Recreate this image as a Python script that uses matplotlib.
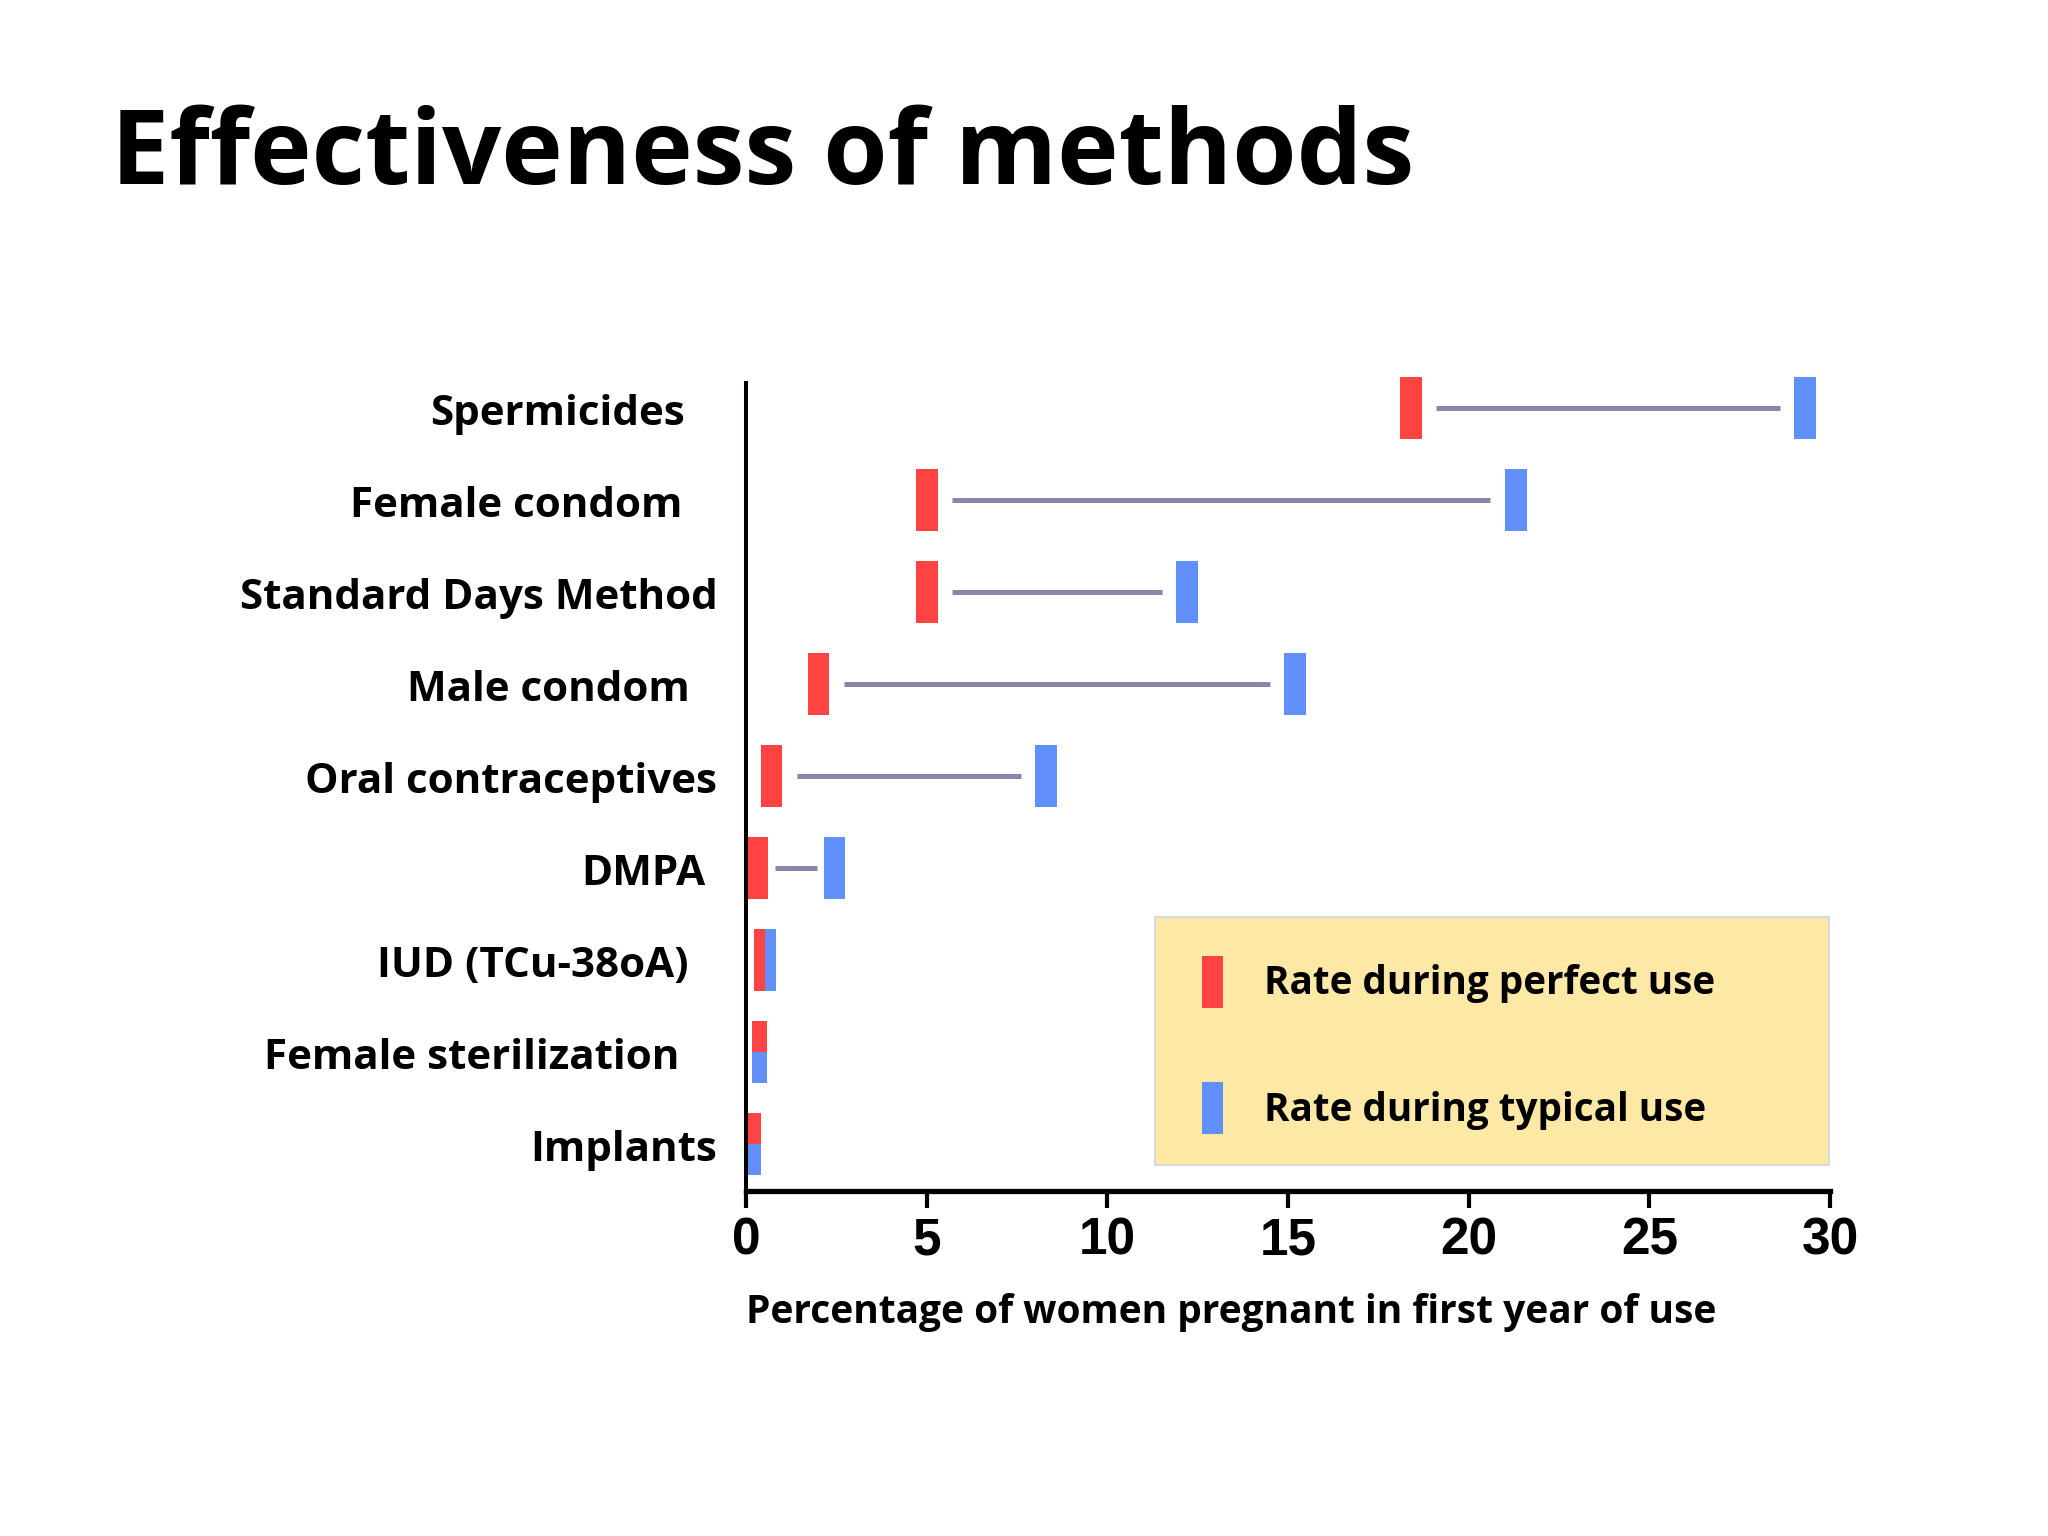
# -------------------------------------------------------------------------
# Effectiveness of contraceptive methods (perfect vs typical use)
# -------------------------------------------------------------------------
import numpy as np
import matplotlib.pyplot as plt
from matplotlib.patches import Patch, Rectangle

#-------------------------------------------------------------------------
# Data (top to bottom as shown)
methods = ['Spermicides', 'Female condom', 'Standard Days Method', 'Male condom',
           'Oral contraceptives', 'DMPA', 'IUD (TCu-38oA)',
           'Female sterilization', 'Implants']
perfect_use = [18.4, 5.0, 5.0, 2.0, 0.7, 0.3, 0.38, 0.37, 0.2]
typical_use = [29.3, 21.3, 12.2, 15.2, 8.3, 2.45, 0.67, 0.37, 0.2]
xticks = [0, 5, 10, 15, 20, 25, 30]

# styling
red = '#ff4343'
blue = '#6190fb'
line_col = '#8985ab'
bar_w = [0.6, 0.6, 0.6, 0.6, 0.6, 0.6, 0.3, 0.42, 0.45]
bar_h = 0.67
label_edge = [524, 522, 549, 528, 549, 540, 527, 520, 549]  # right edge of labels (shown px)
lab_font = dict(family='Open Sans', fontweight='bold')

n = len(methods)
y = np.arange(n)[::-1]

fig = plt.figure(figsize=(20.48, 15.36), dpi=100)
ax = fig.add_axes([0.3643, 0.2246, 0.5293, 0.526])

for i in range(n):
    p, t, w = perfect_use[i], typical_use[i], bar_w[i]
    if p == t:
        # same rate -> split the bar, red on top, blue below
        ax.barh(y[i] + bar_h / 4, w, height=bar_h / 2, left=p - w / 2, color=red)
        ax.barh(y[i] - bar_h / 4, w, height=bar_h / 2, left=t - w / 2, color=blue)
    else:
        ax.barh(y[i], w, height=bar_h, left=p - w / 2, color=red, clip_on=False)
        ax.barh(y[i], w, height=bar_h, left=t - w / 2, color=blue, clip_on=False)
        if t - p > 1.5:
            gap = 0.7 if t - p > 3 else 0.5
            ax.plot([p + gap, t - gap], [y[i], y[i]], color=line_col, lw=3.6,
                    solid_capstyle='butt')

ax.set_xlim(0, 30)
ax.set_ylim(-0.51, n - 1 + 0.27)

for s in ['top', 'right']:
    ax.spines[s].set_visible(False)
ax.spines['left'].set_linewidth(2.9)
ax.spines['bottom'].set_linewidth(3.8)

ax.set_yticks([])
ax.set_xticks(xticks)
ax.set_xticklabels([str(v) for v in xticks], fontsize=37, fontweight='bold',
                   family=['Liberation Sans Narrow', 'Liberation Sans'])
ax.tick_params(axis='x', length=12, width=3, pad=6)

# method labels
for i in range(n):
    xf = (label_edge[i] - 571) / 830.0
    ax.text(xf, y[i] - 0.07, methods[i], transform=ax.get_yaxis_transform(),
            ha='right', va='center', fontsize=30.3, **lab_font)

ax.set_xlabel('Percentage of women pregnant in first year of use', fontsize=28,
              loc='left', labelpad=20, **lab_font)

# legend box
ax.add_patch(Rectangle((0.377, 0.032), 0.622, 0.307, transform=ax.transAxes,
                       facecolor='#fde8a6', edgecolor='#d9d6dc', lw=1.5, zorder=1))
handles = [Patch(facecolor=red, edgecolor='none', label='Rate during perfect use'),
           Patch(facecolor=blue, edgecolor='none', label='Rate during typical use')]
ax.legend(handles=handles, loc='upper left', bbox_to_anchor=(0.4202, 0.2908),
          frameon=False, borderpad=0, borderaxespad=0, handlelength=0.565,
          handleheight=1.68, labelspacing=1.93, handletextpad=1.05,
          prop={'family': 'Open Sans', 'weight': 'bold', 'size': 27.8})

fig.text(0.054, 0.880, 'Effectiveness of methods', fontsize=75, fontweight='bold',
         family='Open Sans', ha='left', va='baseline')

fig.savefig('out.png', dpi=100)
